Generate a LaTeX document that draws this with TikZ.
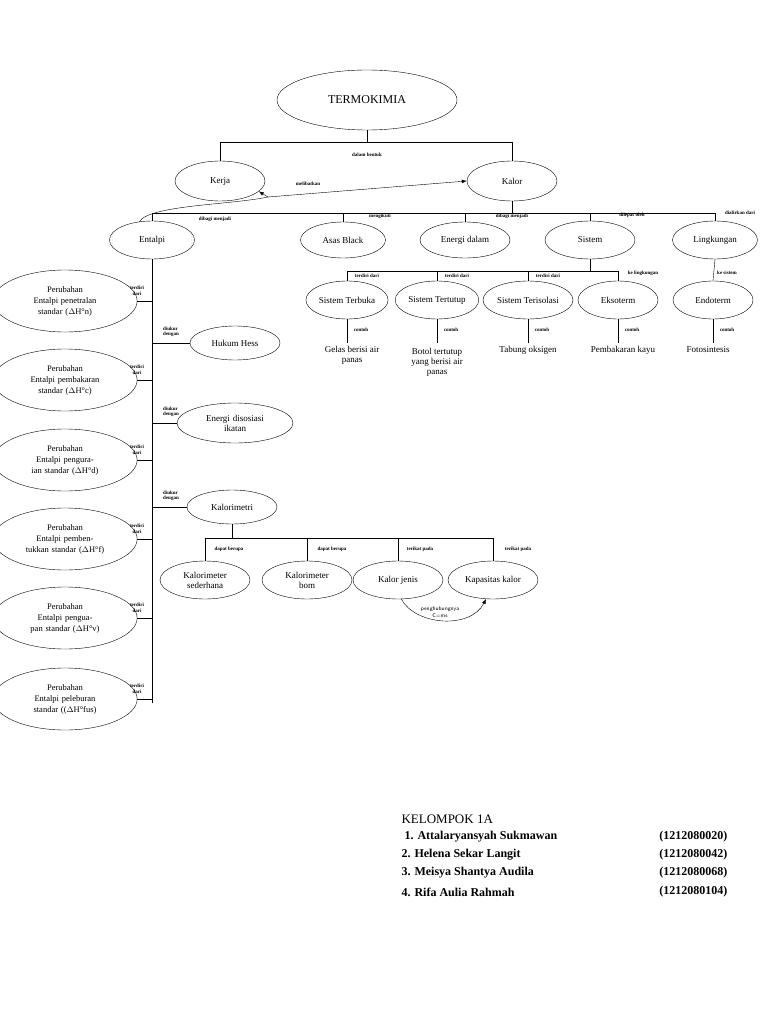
\documentclass[tikz,border=0pt]{standalone}
\usepackage{fontspec}
\setmainfont{Liberation Serif}
\usetikzlibrary{shapes.geometric, positioning, arrows.meta}
\tikzset{
    konsep/.style={ellipse, draw, thin, inner sep=1pt, align=center, font=\fontsize{9}{10}\selectfont},
    kecil/.style={font=\fontsize{5}{5.5}\selectfont\bfseries, inner sep=1pt, align=left},
    contoh/.style={align=center, font=\fontsize{9}{10}\selectfont, inner sep=1pt},
    garis/.style={thin},
    }
\begin{document}
\begin{tikzpicture}[x=1pt, y=-1pt]
\useasboundingbox (0,0) rectangle (768,1024);

% puncak
\node[konsep, minimum width=180, minimum height=60, font=\fontsize{12}{13}\selectfont] (tk) at (367,100) {TERMOKIMIA};
\node[konsep, minimum width=90, minimum height=40] (kerja) at (220,181) {Kerja};
\node[konsep, minimum width=90, minimum height=40] (kalor) at (512,181) {Kalor};
\draw[garis] (tk.south) -- (367,142) -- (220,142) -- (kerja.north);
\draw[garis] (367,142) -- (512,142) -- (kalor.north);
\node[kecil] at (367,155) {dalam bentuk};

% tingkat kedua
\node[konsep, minimum width=85, minimum height=38] (entalpi) at (152,240) {Entalpi};
\node[konsep, minimum width=85, minimum height=36] (asas) at (343,240) {Asas Black};
\node[konsep, minimum width=90, minimum height=36] (energi) at (465,240) {Energi dalam};
\node[konsep, minimum width=90, minimum height=38] (sistem) at (590,240) {Sistem};
\node[konsep, minimum width=85, minimum height=38] (lingk) at (715,240) {Lingkungan};
\draw[garis] (kalor.south) -- (512,213);
\draw[garis] (152,213) -- (715,213);
\foreach \n/\x in {entalpi/152, asas/343, energi/465, sistem/590, lingk/715}
    \draw[garis] (\x,213) -- (\n.north);
\node[kecil] at (215,219) {dibagi menjadi};
\node[kecil] at (380,216) {mengikuti};
\node[kecil] at (512,216) {dibagi menjadi};
\node[kecil] at (632,215) {dilepas oleh};
\node[kecil] at (740,213) {dialirkan dari};

% melibatkan
\coordinate (m) at (268,197);
\draw[garis] (entalpi.125) .. controls (150,205) and (230,205) .. (m);
\draw[garis, -{Latex[length=5pt]}] (m) -- (kerja.-15);
\draw[garis, -{Latex[length=5pt]}] (m) -- (kalor.west);
\node[kecil] at (308,184) {melibatkan};

% sistem
\node[konsep, minimum width=80, minimum height=38] (terbuka) at (347,300) {Sistem Terbuka};
\node[konsep, minimum width=80, minimum height=38] (tertutup) at (437,300) {Sistem Tertutup};
\node[konsep, minimum width=84, minimum height=38] (terisolasi) at (528,300) {Sistem Terisolasi};
\node[konsep, minimum width=80, minimum height=38] (ekso) at (618,300) {Eksoterm};
\node[konsep, minimum width=80, minimum height=38] (endo) at (713,300) {Endoterm};
\draw[garis] (sistem.south) -- (590,271);
\draw[garis] (347,271) -- (618,271);
\foreach \n/\x in {terbuka/347, tertutup/437, terisolasi/528, ekso/618}
    \draw[garis] (\x,271) -- (\n.north);
\foreach \x in {367, 457, 548}
    \node[kecil] at (\x,276) {terdiri dari};
\node[kecil] at (643,273) {ke lingkungan};
\draw[garis] (lingk.south) -- (endo.north);
\node[kecil] at (727,273) {ke sistem};

% contoh
\node[contoh] (c1) at (352,355) {Gelas berisi air\\panas};
\node[contoh] (c2) at (437,362) {Botol tertutup\\yang berisi air\\panas};
\node[contoh] (c3) at (528,350) {Tabung oksigen};
\node[contoh] (c4) at (623,350) {Pembakaran kayu};
\node[contoh] (c5) at (708,350) {Fotosintesis};
\foreach \n/\x in {terbuka/347, tertutup/437, terisolasi/528, ekso/618, endo/713} {
    \draw[garis] (\n.south) -- (\x,343);
    \node[kecil] at (\x+14,330) {contoh};
}

% cabang entalpi
\draw[garis] (entalpi.south) -- (152,703);
\foreach \i/\y/\t in {1/301/penetralan standar ($\Delta$H°n),
                      2/380/pembakaran standar ($\Delta$H°c),
                      3/460/penguraian standar ($\Delta$H°d),
                      4/539/pembentukkan standar ($\Delta$H°f),
                      5/618/penguapan standar ($\Delta$H°v),
                      6/699/peleburan standar (($\Delta$H°fus)} {
    \node[konsep, minimum width=115, minimum height=62, text width=100, font=\fontsize{8.5}{11}\selectfont] (p\i) at (65,\y) {Perubahan\\Entalpi \t};
    \draw[garis] (p\i.east) -- (152,\y);
    \node[kecil, align=center] at (137,\y-10) {terdiri\\dari};
}

\node[konsep, minimum width=90, minimum height=34] (hess) at (235,343) {Hukum Hess};
\node[konsep, minimum width=95, minimum height=40, text width=80] (diso) at (235,423) {Energi disosiasi\\ikatan};
\node[konsep, minimum width=90, minimum height=34] (kmet) at (232,507) {Kalorimetri};
\foreach \n/\y in {hess/343, diso/423, kmet/507} {
    \draw[garis] (152,\y) -- (\n.west);
    \node[kecil] at (171,\y-11) {diukur\\dengan};
}

% kalorimetri
\node[konsep, minimum width=90, minimum height=38] (sed) at (205,580) {Kalorimeter\\sederhana};
\node[konsep, minimum width=90, minimum height=38] (bom) at (307,580) {Kalorimeter\\bom};
\node[konsep, minimum width=90, minimum height=38] (jenis) at (398,580) {Kalor jenis};
\node[konsep, minimum width=90, minimum height=38] (kap) at (493,580) {Kapasitas kalor};
\draw[garis] (kmet.south) -- (232,538);
\draw[garis] (205,538) -- (493,538);
\foreach \n/\x in {sed/205, bom/307, jenis/398, kap/493}
    \draw[garis] (\x,538) -- (\n.north);
\node[kecil] at (229,549) {dapat berupa};
\node[kecil] at (332,549) {dapat berupa};
\node[kecil] at (420,549) {terikat pada};
\node[kecil] at (518,549) {terikat pada};
\draw[garis, -{Latex[length=5pt]}] (jenis.-80) .. controls (415,625) and (470,630) .. (kap.-110);
\node[font=\sffamily\fontsize{5.5}{6.5}\selectfont, align=center] at (440,612) {penghubungnya\\C=ms};

% kelompok
\node[anchor=west, font=\fontsize{13}{14}\selectfont] (kel) at (398,819) {KELOMPOK 1A};
\foreach \i/\y/\nama/\nim in {1/837/{\ 1. Attalaryansyah Sukmawan}/1212080020,
                               2/855/{2. Helena Sekar Langit}/1212080042,
                               3/873/{3. Meisya Shantya Audila}/1212080068,
                               4/892/{4. Rifa Aulia Rahmah}/1212080104} {
    \node[anchor=west, font=\fontsize{12}{13}\selectfont\bfseries] (a\i) at (398,\y) {\nama};
    \node[anchor=east, font=\fontsize{12}{13}\selectfont\bfseries] (n\i) at (731,\y) {(\nim)};
}
\end{tikzpicture}
\end{document}
